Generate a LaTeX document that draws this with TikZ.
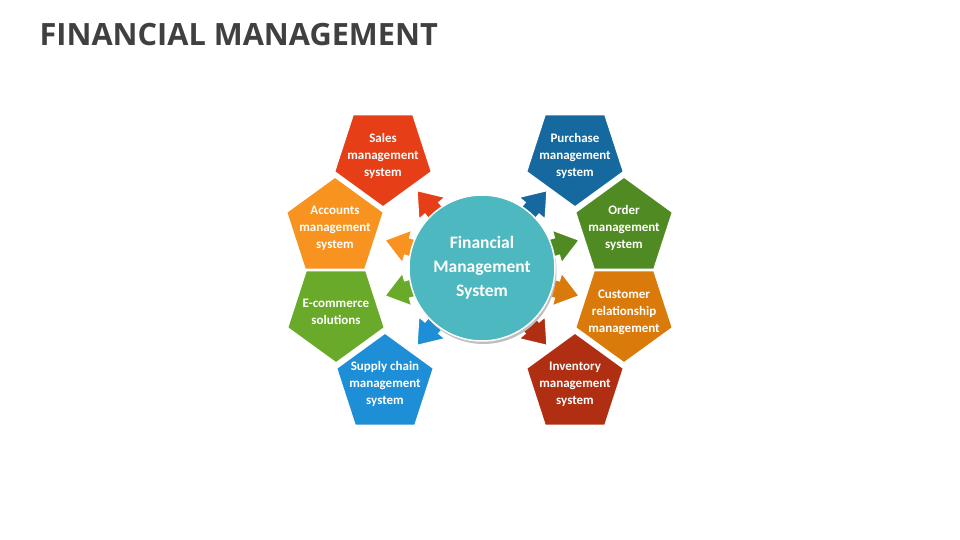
\documentclass[tikz,border=0pt]{standalone}
\usepackage{fontspec}
\setmainfont{Carlito}
\newfontfamily\titlefont{Open Sans}
\usetikzlibrary{shapes.geometric}
\definecolor{cRed}{HTML}{E63E16}
\definecolor{cOrange}{HTML}{F7931E}
\definecolor{cGreen}{HTML}{6AAA2A}
\definecolor{cBlue}{HTML}{1E8ED6}
\definecolor{cDBlue}{HTML}{15699F}
\definecolor{cDGreen}{HTML}{4F8A22}
\definecolor{cDOrange}{HTML}{D97A0B}
\definecolor{cDRed}{HTML}{B02E12}
\definecolor{cTeal}{HTML}{4EB8C0}
\definecolor{cTitle}{HTML}{404040}
\tikzset{
  pent/.style={regular polygon, regular polygon sides=5, minimum size=102pt, inner sep=0pt,
    draw=white, line width=1.5pt},
  down/.style={shape border rotate=180},
  ptext/.style={text=white, align=center, inner sep=0pt, font=\fontsize{13}{17}\selectfont\bfseries},
  arr/.style={draw=white, line width=1.2pt},
}
\newcommand{\outarrow}[2]{%
  \fill[#2, arr, rotate around={#1:(c)}] ([shift={(50,-9)}]c) -- ([shift={(78,-9)}]c) -- ([shift={(78,-17)}]c)
   -- ([shift={(101,0)}]c) -- ([shift={(78,17)}]c) -- ([shift={(78,9)}]c) -- ([shift={(50,9)}]c) -- cycle;}
\begin{document}
\begin{tikzpicture}[x=1pt,y=1pt]
\useasboundingbox (0,0) rectangle (960,540);
\node[anchor=west, text=cTitle, font=\titlefont\bfseries\fontsize{30.7}{34}\selectfont] (title) at (36,505) {FINANCIAL MANAGEMENT};
\coordinate (c) at (482,272);
\outarrow{130}{cRed}
\outarrow{164}{cOrange}
\outarrow{196}{cGreen}
\outarrow{230}{cBlue}
\outarrow{50}{cDBlue}
\outarrow{16}{cDGreen}
\outarrow{-16}{cDOrange}
\outarrow{-50}{cDRed}
\fill[black!25] (483.5,269) circle (73);
\node[circle, fill=cTeal, draw=white, line width=1.5pt, minimum size=146pt, text=white, align=center,
  font=\fontsize{17.5}{24}\selectfont\bfseries] (center) at (c) {Financial\\Management\\System};
\node[pent,down,fill=cRed] (sales) at (383,384) {};
\node[ptext] (salesT) at (sales.center) {Sales\\management\\system};
\node[pent,fill=cOrange] (acc) at (335,312) {};
\node[ptext] (accT) at (acc.center) {Accounts\\management\\system};
\node[pent,down,fill=cGreen] (ecom) at (336,228) {};
\node[ptext] (ecomT) at (ecom.center) {E-commerce\\solutions};
\node[pent,fill=cBlue] (supply) at (385,156) {};
\node[ptext] (supplyT) at (supply.center) {Supply chain\\management\\system};
\node[pent,down,fill=cDBlue] (purch) at (575,384) {};
\node[ptext] (purchT) at (purch.center) {Purchase\\management\\system};
\node[pent,fill=cDGreen] (order) at (624,312) {};
\node[ptext] (orderT) at (order.center) {Order\\management\\system};
\node[pent,down,fill=cDOrange] (cust) at (624,228) {};
\node[ptext] (custT) at (cust.center) {Customer\\relationship\\management};
\node[pent,fill=cDRed] (inv) at (575,156) {};
\node[ptext] (invT) at (inv.center) {Inventory\\management\\system};
\end{tikzpicture}
\end{document}
